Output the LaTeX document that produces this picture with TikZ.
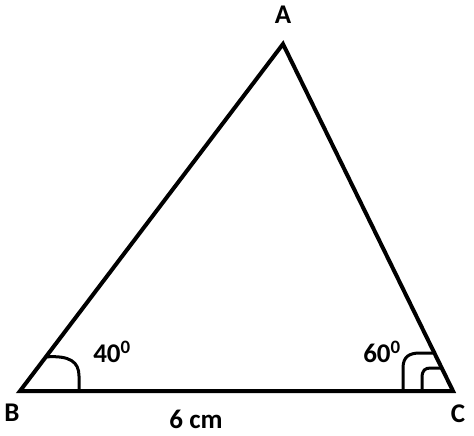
\documentclass[tikz,border=0pt]{standalone}
\usepackage{fontspec}
\setmainfont{Carlito}
\begin{document}
\begin{tikzpicture}[x=1pt,y=-1pt,
  side/.style={line width=4pt,line join=miter},
  angmark/.style={line width=3pt},
  lbl/.style={font=\fontsize{27}{30}\selectfont\bfseries,inner sep=0pt}]
\useasboundingbox (0,0) rectangle (474,436);
\coordinate (A) at (283,44);
\coordinate (B) at (20,391);
\coordinate (C) at (453,391);
\draw[side] (A) -- (B) -- (C) -- cycle;
% angle at B
\coordinate (b1) at (45,357);
\coordinate (b2) at (79,391);
\draw[angmark] (b1) .. controls (70,355) and (79,362) .. (79,376) -- (b2);
% angles at C
\coordinate (c1) at (403,391);
\coordinate (c2) at (436,353);
\draw[angmark] (c1) -- (403,368) .. controls (403,356) and (410,353) .. (420,353) -- (c2);
\coordinate (c3) at (422,391);
\coordinate (c4) at (443,368);
\draw[angmark] (c3) -- (422,378) .. controls (422,370) and (425,368) .. (431,368) -- (c4);
\node[lbl] (la) at (283,15) {A};
\node[lbl] (lb) at (12,413) {B};
\node[lbl] (lc) at (458,414) {C};
\node[lbl] (len) at (196,419) {6 cm};
\node[lbl] (a40) at (112,352) {40\textsuperscript{0}};
\node[lbl] (a60) at (382,352) {60\textsuperscript{0}};
\end{tikzpicture}
\end{document}
